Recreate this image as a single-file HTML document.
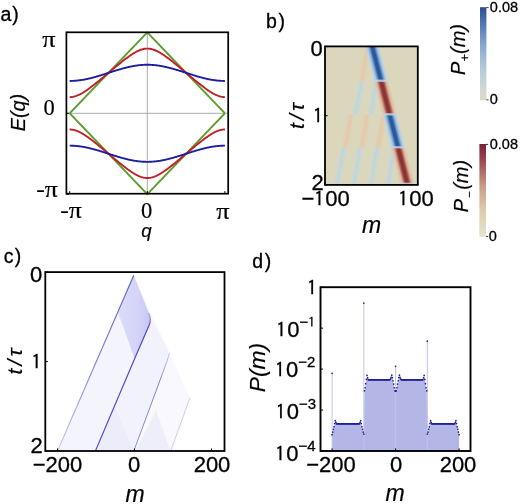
<!DOCTYPE html>
<html><head><meta charset="utf-8"><title>Figure</title>
<style>html,body{margin:0;padding:0;background:#fff;width:520px;height:504px;overflow:hidden}svg{display:block;filter:blur(0.35px)}</style>
</head><body>
<svg width="520" height="504" viewBox="0 0 520 504"><defs><clipPath id="cb"><rect x="325.0" y="46.4" width="92.80000000000001" height="138.5"/></clipPath><linearGradient id="gp" x1="0" y1="1" x2="0" y2="0"><stop offset="0" stop-color="#dbdac4"/><stop offset="0.12" stop-color="#d0d9d2"/><stop offset="0.35" stop-color="#b3c9da"/><stop offset="0.6" stop-color="#84a7cf"/><stop offset="0.85" stop-color="#4b71ae"/><stop offset="1" stop-color="#2b4d8e"/></linearGradient><linearGradient id="gm" x1="0" y1="1" x2="0" y2="0"><stop offset="0" stop-color="#e5e3d2"/><stop offset="0.3" stop-color="#dccaa9"/><stop offset="0.55" stop-color="#c89a86"/><stop offset="0.8" stop-color="#9f4f55"/><stop offset="1" stop-color="#7b1f36"/></linearGradient><linearGradient id="sbl" x1="0" y1="0" x2="1" y2="0"><stop offset="0" stop-color="#c0d4e0" stop-opacity="0"/><stop offset="0.1" stop-color="#c0d4e0" stop-opacity="0.8"/><stop offset="0.22" stop-color="#a0c2e0" stop-opacity="1"/><stop offset="0.32" stop-color="#6494cb" stop-opacity="1"/><stop offset="0.42" stop-color="#2c5898" stop-opacity="1"/><stop offset="0.58" stop-color="#2c5898" stop-opacity="1"/><stop offset="0.68" stop-color="#6494cb" stop-opacity="1"/><stop offset="0.78" stop-color="#a0c2e0" stop-opacity="1"/><stop offset="0.9" stop-color="#c0d4e0" stop-opacity="0.8"/><stop offset="1" stop-color="#c0d4e0" stop-opacity="0"/></linearGradient><linearGradient id="srd" x1="0" y1="0" x2="1" y2="0"><stop offset="0" stop-color="#e0c6ac" stop-opacity="0"/><stop offset="0.1" stop-color="#e0c6ac" stop-opacity="0.8"/><stop offset="0.22" stop-color="#d9b09a" stop-opacity="1"/><stop offset="0.32" stop-color="#b5675a" stop-opacity="1"/><stop offset="0.42" stop-color="#8c3434" stop-opacity="1"/><stop offset="0.58" stop-color="#8c3434" stop-opacity="1"/><stop offset="0.68" stop-color="#b5675a" stop-opacity="1"/><stop offset="0.78" stop-color="#d9b09a" stop-opacity="1"/><stop offset="0.9" stop-color="#e0c6ac" stop-opacity="0.8"/><stop offset="1" stop-color="#e0c6ac" stop-opacity="0"/></linearGradient><linearGradient id="ftn" x1="0" y1="0" x2="1" y2="0"><stop offset="0" stop-color="#e4cdae" stop-opacity="0"/><stop offset="0.25" stop-color="#e4cdae" stop-opacity="0.8"/><stop offset="0.5" stop-color="#e6c9a8" stop-opacity="1"/><stop offset="0.75" stop-color="#e4cdae" stop-opacity="0.8"/><stop offset="1" stop-color="#e4cdae" stop-opacity="0"/></linearGradient><linearGradient id="fbl" x1="0" y1="0" x2="1" y2="0"><stop offset="0" stop-color="#c6d8d8" stop-opacity="0"/><stop offset="0.25" stop-color="#c6d8d8" stop-opacity="0.8"/><stop offset="0.5" stop-color="#bed5dc" stop-opacity="1"/><stop offset="0.75" stop-color="#c6d8d8" stop-opacity="0.8"/><stop offset="1" stop-color="#c6d8d8" stop-opacity="0"/></linearGradient><clipPath id="cc"><rect x="45.3" y="272.1" width="179.2" height="178.89999999999998"/></clipPath><linearGradient id="crh" x1="0" y1="0" x2="1" y2="0"><stop offset="0" stop-color="#dadaf9"/><stop offset="0.6" stop-color="#d4d4f8"/><stop offset="1" stop-color="#c6c6f3"/></linearGradient><linearGradient id="cl3" x1="0" y1="0" x2="0" y2="1"><stop offset="0" stop-color="#8a8ada" stop-opacity="0.6"/><stop offset="0.1" stop-color="#4848c2"/><stop offset="1" stop-color="#5454c8"/></linearGradient><linearGradient id="cle" x1="0" y1="0" x2="0" y2="1"><stop offset="0" stop-color="#5858cc"/><stop offset="0.5" stop-color="#8080da"/><stop offset="1" stop-color="#cacaf2"/></linearGradient><linearGradient id="cl4" x1="0" y1="0" x2="0" y2="1"><stop offset="0" stop-color="#c8c8f0"/><stop offset="0.3" stop-color="#7c7cd8"/><stop offset="1" stop-color="#8c8cde"/></linearGradient></defs>
<line x1="66.4" y1="113.3" x2="228.2" y2="113.3" stroke="#a2a2a2" stroke-width="0.9"/>
<line x1="147.3" y1="32.3" x2="147.3" y2="193.7" stroke="#a2a2a2" stroke-width="0.9"/>
<polyline points="69.70,113.30 70.35,112.63 70.99,111.95 71.64,111.28 72.29,110.60 72.93,109.93 73.58,109.25 74.23,108.58 74.87,107.91 75.52,107.23 76.17,106.56 76.81,105.88 77.46,105.21 78.11,104.54 78.75,103.86 79.40,103.19 80.05,102.51 80.69,101.84 81.34,101.16 81.99,100.49 82.63,99.82 83.28,99.14 83.93,98.47 84.57,97.79 85.22,97.12 85.87,96.45 86.51,95.77 87.16,95.10 87.81,94.42 88.45,93.75 89.10,93.07 89.75,92.40 90.39,91.73 91.04,91.05 91.69,90.38 92.33,89.70 92.98,89.03 93.63,88.36 94.27,87.68 94.92,87.01 95.57,86.33 96.21,85.66 96.86,84.98 97.51,84.31 98.15,83.64 98.80,82.96 99.45,82.29 100.09,81.61 100.74,80.94 101.39,80.27 102.03,79.59 102.68,78.92 103.33,78.24 103.97,77.57 104.62,76.89 105.27,76.22 105.91,75.55 106.56,74.87 107.21,74.20 107.85,73.52 108.50,72.85 109.15,72.18 109.79,71.50 110.44,70.83 111.09,70.15 111.73,69.48 112.38,68.80 113.03,68.13 113.67,67.46 114.32,66.78 114.97,66.11 115.61,65.43 116.26,64.76 116.91,64.09 117.55,63.41 118.20,62.74 118.85,62.06 119.49,61.39 120.14,60.71 120.79,60.04 121.43,59.37 122.08,58.69 122.73,58.02 123.37,57.34 124.02,56.67 124.67,56.00 125.31,55.32 125.96,54.65 126.61,53.97 127.25,53.30 127.90,52.62 128.55,51.95 129.19,51.28 129.84,50.60 130.49,49.93 131.13,49.25 131.78,48.58 132.43,47.91 133.07,47.23 133.72,46.56 134.37,45.88 135.01,45.21 135.66,44.53 136.31,43.86 136.95,43.19 137.60,42.51 138.25,41.84 138.89,41.16 139.54,40.49 140.19,39.82 140.83,39.14 141.48,38.47 142.13,37.79 142.77,37.12 143.42,36.44 144.07,35.77 144.71,35.10 145.36,34.42 146.01,33.75 146.65,33.07 147.30,32.40 147.95,33.07 148.59,33.75 149.24,34.42 149.89,35.10 150.53,35.77 151.18,36.44 151.83,37.12 152.47,37.79 153.12,38.47 153.77,39.14 154.41,39.82 155.06,40.49 155.71,41.16 156.35,41.84 157.00,42.51 157.65,43.19 158.29,43.86 158.94,44.53 159.59,45.21 160.23,45.88 160.88,46.56 161.53,47.23 162.17,47.91 162.82,48.58 163.47,49.25 164.11,49.93 164.76,50.60 165.41,51.28 166.05,51.95 166.70,52.62 167.35,53.30 167.99,53.97 168.64,54.65 169.29,55.32 169.93,56.00 170.58,56.67 171.23,57.34 171.87,58.02 172.52,58.69 173.17,59.37 173.81,60.04 174.46,60.71 175.11,61.39 175.75,62.06 176.40,62.74 177.05,63.41 177.69,64.09 178.34,64.76 178.99,65.43 179.63,66.11 180.28,66.78 180.93,67.46 181.57,68.13 182.22,68.80 182.87,69.48 183.51,70.15 184.16,70.83 184.81,71.50 185.45,72.18 186.10,72.85 186.75,73.52 187.39,74.20 188.04,74.87 188.69,75.55 189.33,76.22 189.98,76.89 190.63,77.57 191.27,78.24 191.92,78.92 192.57,79.59 193.21,80.27 193.86,80.94 194.51,81.61 195.15,82.29 195.80,82.96 196.45,83.64 197.09,84.31 197.74,84.98 198.39,85.66 199.03,86.33 199.68,87.01 200.33,87.68 200.97,88.36 201.62,89.03 202.27,89.70 202.91,90.38 203.56,91.05 204.21,91.73 204.85,92.40 205.50,93.07 206.15,93.75 206.79,94.42 207.44,95.10 208.09,95.77 208.73,96.45 209.38,97.12 210.03,97.79 210.67,98.47 211.32,99.14 211.97,99.82 212.61,100.49 213.26,101.16 213.91,101.84 214.55,102.51 215.20,103.19 215.85,103.86 216.49,104.54 217.14,105.21 217.79,105.88 218.43,106.56 219.08,107.23 219.73,107.91 220.37,108.58 221.02,109.25 221.67,109.93 222.31,110.60 222.96,111.28 223.61,111.95 224.25,112.63 224.90,113.30" fill="none" stroke="#5c9e2e" stroke-width="1.9" stroke-linejoin="round"/>
<polyline points="69.70,113.30 70.35,113.97 70.99,114.65 71.64,115.32 72.29,116.00 72.93,116.67 73.58,117.35 74.23,118.02 74.87,118.69 75.52,119.37 76.17,120.04 76.81,120.72 77.46,121.39 78.11,122.06 78.75,122.74 79.40,123.41 80.05,124.09 80.69,124.76 81.34,125.44 81.99,126.11 82.63,126.78 83.28,127.46 83.93,128.13 84.57,128.81 85.22,129.48 85.87,130.15 86.51,130.83 87.16,131.50 87.81,132.18 88.45,132.85 89.10,133.53 89.75,134.20 90.39,134.87 91.04,135.55 91.69,136.22 92.33,136.90 92.98,137.57 93.63,138.24 94.27,138.92 94.92,139.59 95.57,140.27 96.21,140.94 96.86,141.62 97.51,142.29 98.15,142.96 98.80,143.64 99.45,144.31 100.09,144.99 100.74,145.66 101.39,146.33 102.03,147.01 102.68,147.68 103.33,148.36 103.97,149.03 104.62,149.71 105.27,150.38 105.91,151.05 106.56,151.73 107.21,152.40 107.85,153.08 108.50,153.75 109.15,154.42 109.79,155.10 110.44,155.77 111.09,156.45 111.73,157.12 112.38,157.80 113.03,158.47 113.67,159.14 114.32,159.82 114.97,160.49 115.61,161.17 116.26,161.84 116.91,162.51 117.55,163.19 118.20,163.86 118.85,164.54 119.49,165.21 120.14,165.88 120.79,166.56 121.43,167.23 122.08,167.91 122.73,168.58 123.37,169.26 124.02,169.93 124.67,170.60 125.31,171.28 125.96,171.95 126.61,172.63 127.25,173.30 127.90,173.97 128.55,174.65 129.19,175.32 129.84,176.00 130.49,176.67 131.13,177.35 131.78,178.02 132.43,178.69 133.07,179.37 133.72,180.04 134.37,180.72 135.01,181.39 135.66,182.06 136.31,182.74 136.95,183.41 137.60,184.09 138.25,184.76 138.89,185.44 139.54,186.11 140.19,186.78 140.83,187.46 141.48,188.13 142.13,188.81 142.77,189.48 143.42,190.16 144.07,190.83 144.71,191.50 145.36,192.18 146.01,192.85 146.65,193.53 147.30,194.20 147.95,193.53 148.59,192.85 149.24,192.18 149.89,191.50 150.53,190.83 151.18,190.16 151.83,189.48 152.47,188.81 153.12,188.13 153.77,187.46 154.41,186.78 155.06,186.11 155.71,185.44 156.35,184.76 157.00,184.09 157.65,183.41 158.29,182.74 158.94,182.06 159.59,181.39 160.23,180.72 160.88,180.04 161.53,179.37 162.17,178.69 162.82,178.02 163.47,177.35 164.11,176.67 164.76,176.00 165.41,175.32 166.05,174.65 166.70,173.97 167.35,173.30 167.99,172.63 168.64,171.95 169.29,171.28 169.93,170.60 170.58,169.93 171.23,169.26 171.87,168.58 172.52,167.91 173.17,167.23 173.81,166.56 174.46,165.88 175.11,165.21 175.75,164.54 176.40,163.86 177.05,163.19 177.69,162.51 178.34,161.84 178.99,161.17 179.63,160.49 180.28,159.82 180.93,159.14 181.57,158.47 182.22,157.80 182.87,157.12 183.51,156.45 184.16,155.77 184.81,155.10 185.45,154.42 186.10,153.75 186.75,153.08 187.39,152.40 188.04,151.73 188.69,151.05 189.33,150.38 189.98,149.71 190.63,149.03 191.27,148.36 191.92,147.68 192.57,147.01 193.21,146.33 193.86,145.66 194.51,144.99 195.15,144.31 195.80,143.64 196.45,142.96 197.09,142.29 197.74,141.62 198.39,140.94 199.03,140.27 199.68,139.59 200.33,138.92 200.97,138.24 201.62,137.57 202.27,136.90 202.91,136.22 203.56,135.55 204.21,134.87 204.85,134.20 205.50,133.53 206.15,132.85 206.79,132.18 207.44,131.50 208.09,130.83 208.73,130.15 209.38,129.48 210.03,128.81 210.67,128.13 211.32,127.46 211.97,126.78 212.61,126.11 213.26,125.44 213.91,124.76 214.55,124.09 215.20,123.41 215.85,122.74 216.49,122.06 217.14,121.39 217.79,120.72 218.43,120.04 219.08,119.37 219.73,118.69 220.37,118.02 221.02,117.35 221.67,116.67 222.31,116.00 222.96,115.32 223.61,114.65 224.25,113.97 224.90,113.30" fill="none" stroke="#5c9e2e" stroke-width="1.9" stroke-linejoin="round"/>
<polyline points="69.70,97.12 70.35,97.11 70.99,97.07 71.64,97.01 72.29,96.93 72.93,96.82 73.58,96.69 74.23,96.54 74.87,96.36 75.52,96.16 76.17,95.95 76.81,95.71 77.46,95.46 78.11,95.19 78.75,94.90 79.40,94.59 80.05,94.27 80.69,93.93 81.34,93.58 81.99,93.22 82.63,92.84 83.28,92.45 83.93,92.05 84.57,91.64 85.22,91.22 85.87,90.80 86.51,90.36 87.16,89.91 87.81,89.46 88.45,89.00 89.10,88.53 89.75,88.06 90.39,87.58 91.04,87.10 91.69,86.61 92.33,86.11 92.98,85.61 93.63,85.11 94.27,84.60 94.92,84.09 95.57,83.57 96.21,83.06 96.86,82.53 97.51,82.01 98.15,81.48 98.80,80.96 99.45,80.42 100.09,79.89 100.74,79.36 101.39,78.82 102.03,78.28 102.68,77.74 103.33,77.20 103.97,76.66 104.62,76.12 105.27,75.57 105.91,75.03 106.56,74.49 107.21,73.94 107.85,73.40 108.50,72.85 109.15,72.30 109.79,71.76 110.44,71.21 111.09,70.67 111.73,70.13 112.38,69.58 113.03,69.04 113.67,68.50 114.32,67.96 114.97,67.42 115.61,66.88 116.26,66.34 116.91,65.81 117.55,65.28 118.20,64.74 118.85,64.22 119.49,63.69 120.14,63.17 120.79,62.64 121.43,62.13 122.08,61.61 122.73,61.10 123.37,60.59 124.02,60.09 124.67,59.59 125.31,59.09 125.96,58.60 126.61,58.12 127.25,57.64 127.90,57.17 128.55,56.70 129.19,56.24 129.84,55.79 130.49,55.34 131.13,54.90 131.78,54.48 132.43,54.06 133.07,53.65 133.72,53.25 134.37,52.86 135.01,52.48 135.66,52.12 136.31,51.77 136.95,51.43 137.60,51.11 138.25,50.80 138.89,50.51 139.54,50.24 140.19,49.99 140.83,49.75 141.48,49.54 142.13,49.34 142.77,49.16 143.42,49.01 144.07,48.88 144.71,48.77 145.36,48.69 146.01,48.63 146.65,48.59 147.30,48.58 147.95,48.59 148.59,48.63 149.24,48.69 149.89,48.77 150.53,48.88 151.18,49.01 151.83,49.16 152.47,49.34 153.12,49.54 153.77,49.75 154.41,49.99 155.06,50.24 155.71,50.51 156.35,50.80 157.00,51.11 157.65,51.43 158.29,51.77 158.94,52.12 159.59,52.48 160.23,52.86 160.88,53.25 161.53,53.65 162.17,54.06 162.82,54.48 163.47,54.90 164.11,55.34 164.76,55.79 165.41,56.24 166.05,56.70 166.70,57.17 167.35,57.64 167.99,58.12 168.64,58.60 169.29,59.09 169.93,59.59 170.58,60.09 171.23,60.59 171.87,61.10 172.52,61.61 173.17,62.13 173.81,62.64 174.46,63.17 175.11,63.69 175.75,64.22 176.40,64.74 177.05,65.28 177.69,65.81 178.34,66.34 178.99,66.88 179.63,67.42 180.28,67.96 180.93,68.50 181.57,69.04 182.22,69.58 182.87,70.13 183.51,70.67 184.16,71.21 184.81,71.76 185.45,72.30 186.10,72.85 186.75,73.40 187.39,73.94 188.04,74.49 188.69,75.03 189.33,75.57 189.98,76.12 190.63,76.66 191.27,77.20 191.92,77.74 192.57,78.28 193.21,78.82 193.86,79.36 194.51,79.89 195.15,80.42 195.80,80.96 196.45,81.48 197.09,82.01 197.74,82.53 198.39,83.06 199.03,83.57 199.68,84.09 200.33,84.60 200.97,85.11 201.62,85.61 202.27,86.11 202.91,86.61 203.56,87.10 204.21,87.58 204.85,88.06 205.50,88.53 206.15,89.00 206.79,89.46 207.44,89.91 208.09,90.36 208.73,90.80 209.38,91.22 210.03,91.64 210.67,92.05 211.32,92.45 211.97,92.84 212.61,93.22 213.26,93.58 213.91,93.93 214.55,94.27 215.20,94.59 215.85,94.90 216.49,95.19 217.14,95.46 217.79,95.71 218.43,95.95 219.08,96.16 219.73,96.36 220.37,96.54 221.02,96.69 221.67,96.82 222.31,96.93 222.96,97.01 223.61,97.07 224.25,97.11 224.90,97.12" fill="none" stroke="#c41f26" stroke-width="1.9" stroke-linejoin="round"/>
<polyline points="69.70,129.48 70.35,129.49 70.99,129.53 71.64,129.59 72.29,129.67 72.93,129.78 73.58,129.91 74.23,130.06 74.87,130.24 75.52,130.44 76.17,130.65 76.81,130.89 77.46,131.14 78.11,131.41 78.75,131.70 79.40,132.01 80.05,132.33 80.69,132.67 81.34,133.02 81.99,133.38 82.63,133.76 83.28,134.15 83.93,134.55 84.57,134.96 85.22,135.38 85.87,135.80 86.51,136.24 87.16,136.69 87.81,137.14 88.45,137.60 89.10,138.07 89.75,138.54 90.39,139.02 91.04,139.50 91.69,139.99 92.33,140.49 92.98,140.99 93.63,141.49 94.27,142.00 94.92,142.51 95.57,143.03 96.21,143.54 96.86,144.07 97.51,144.59 98.15,145.12 98.80,145.64 99.45,146.18 100.09,146.71 100.74,147.24 101.39,147.78 102.03,148.32 102.68,148.86 103.33,149.40 103.97,149.94 104.62,150.48 105.27,151.03 105.91,151.57 106.56,152.11 107.21,152.66 107.85,153.20 108.50,153.75 109.15,154.30 109.79,154.84 110.44,155.39 111.09,155.93 111.73,156.47 112.38,157.02 113.03,157.56 113.67,158.10 114.32,158.64 114.97,159.18 115.61,159.72 116.26,160.26 116.91,160.79 117.55,161.32 118.20,161.86 118.85,162.38 119.49,162.91 120.14,163.43 120.79,163.96 121.43,164.47 122.08,164.99 122.73,165.50 123.37,166.01 124.02,166.51 124.67,167.01 125.31,167.51 125.96,168.00 126.61,168.48 127.25,168.96 127.90,169.43 128.55,169.90 129.19,170.36 129.84,170.81 130.49,171.26 131.13,171.70 131.78,172.12 132.43,172.54 133.07,172.95 133.72,173.35 134.37,173.74 135.01,174.12 135.66,174.48 136.31,174.83 136.95,175.17 137.60,175.49 138.25,175.80 138.89,176.09 139.54,176.36 140.19,176.61 140.83,176.85 141.48,177.06 142.13,177.26 142.77,177.44 143.42,177.59 144.07,177.72 144.71,177.83 145.36,177.91 146.01,177.97 146.65,178.01 147.30,178.02 147.95,178.01 148.59,177.97 149.24,177.91 149.89,177.83 150.53,177.72 151.18,177.59 151.83,177.44 152.47,177.26 153.12,177.06 153.77,176.85 154.41,176.61 155.06,176.36 155.71,176.09 156.35,175.80 157.00,175.49 157.65,175.17 158.29,174.83 158.94,174.48 159.59,174.12 160.23,173.74 160.88,173.35 161.53,172.95 162.17,172.54 162.82,172.12 163.47,171.70 164.11,171.26 164.76,170.81 165.41,170.36 166.05,169.90 166.70,169.43 167.35,168.96 167.99,168.48 168.64,168.00 169.29,167.51 169.93,167.01 170.58,166.51 171.23,166.01 171.87,165.50 172.52,164.99 173.17,164.47 173.81,163.96 174.46,163.43 175.11,162.91 175.75,162.38 176.40,161.86 177.05,161.32 177.69,160.79 178.34,160.26 178.99,159.72 179.63,159.18 180.28,158.64 180.93,158.10 181.57,157.56 182.22,157.02 182.87,156.47 183.51,155.93 184.16,155.39 184.81,154.84 185.45,154.30 186.10,153.75 186.75,153.20 187.39,152.66 188.04,152.11 188.69,151.57 189.33,151.03 189.98,150.48 190.63,149.94 191.27,149.40 191.92,148.86 192.57,148.32 193.21,147.78 193.86,147.24 194.51,146.71 195.15,146.18 195.80,145.64 196.45,145.12 197.09,144.59 197.74,144.07 198.39,143.54 199.03,143.03 199.68,142.51 200.33,142.00 200.97,141.49 201.62,140.99 202.27,140.49 202.91,139.99 203.56,139.50 204.21,139.02 204.85,138.54 205.50,138.07 206.15,137.60 206.79,137.14 207.44,136.69 208.09,136.24 208.73,135.80 209.38,135.38 210.03,134.96 210.67,134.55 211.32,134.15 211.97,133.76 212.61,133.38 213.26,133.02 213.91,132.67 214.55,132.33 215.20,132.01 215.85,131.70 216.49,131.41 217.14,131.14 217.79,130.89 218.43,130.65 219.08,130.44 219.73,130.24 220.37,130.06 221.02,129.91 221.67,129.78 222.31,129.67 222.96,129.59 223.61,129.53 224.25,129.49 224.90,129.48" fill="none" stroke="#c41f26" stroke-width="1.9" stroke-linejoin="round"/>
<polyline points="69.70,80.94 70.35,80.94 70.99,80.93 71.64,80.91 72.29,80.89 72.93,80.87 73.58,80.84 74.23,80.80 74.87,80.76 75.52,80.71 76.17,80.66 76.81,80.60 77.46,80.53 78.11,80.46 78.75,80.39 79.40,80.31 80.05,80.22 80.69,80.13 81.34,80.03 81.99,79.93 82.63,79.83 83.28,79.72 83.93,79.60 84.57,79.48 85.22,79.36 85.87,79.23 86.51,79.10 87.16,78.96 87.81,78.82 88.45,78.67 89.10,78.52 89.75,78.37 90.39,78.21 91.04,78.05 91.69,77.89 92.33,77.72 92.98,77.55 93.63,77.38 94.27,77.20 94.92,77.03 95.57,76.84 96.21,76.66 96.86,76.47 97.51,76.29 98.15,76.10 98.80,75.90 99.45,75.71 100.09,75.51 100.74,75.31 101.39,75.11 102.03,74.91 102.68,74.71 103.33,74.51 103.97,74.30 104.62,74.10 105.27,73.89 105.91,73.68 106.56,73.47 107.21,73.27 107.85,73.06 108.50,72.85 109.15,72.64 109.79,72.43 110.44,72.23 111.09,72.02 111.73,71.81 112.38,71.60 113.03,71.40 113.67,71.19 114.32,70.99 114.97,70.79 115.61,70.59 116.26,70.39 116.91,70.19 117.55,69.99 118.20,69.80 118.85,69.60 119.49,69.41 120.14,69.23 120.79,69.04 121.43,68.86 122.08,68.67 122.73,68.50 123.37,68.32 124.02,68.15 124.67,67.98 125.31,67.81 125.96,67.65 126.61,67.49 127.25,67.33 127.90,67.18 128.55,67.03 129.19,66.88 129.84,66.74 130.49,66.60 131.13,66.47 131.78,66.34 132.43,66.22 133.07,66.10 133.72,65.98 134.37,65.87 135.01,65.77 135.66,65.67 136.31,65.57 136.95,65.48 137.60,65.39 138.25,65.31 138.89,65.24 139.54,65.17 140.19,65.10 140.83,65.04 141.48,64.99 142.13,64.94 142.77,64.90 143.42,64.86 144.07,64.83 144.71,64.81 145.36,64.79 146.01,64.77 146.65,64.76 147.30,64.76 147.95,64.76 148.59,64.77 149.24,64.79 149.89,64.81 150.53,64.83 151.18,64.86 151.83,64.90 152.47,64.94 153.12,64.99 153.77,65.04 154.41,65.10 155.06,65.17 155.71,65.24 156.35,65.31 157.00,65.39 157.65,65.48 158.29,65.57 158.94,65.67 159.59,65.77 160.23,65.87 160.88,65.98 161.53,66.10 162.17,66.22 162.82,66.34 163.47,66.47 164.11,66.60 164.76,66.74 165.41,66.88 166.05,67.03 166.70,67.18 167.35,67.33 167.99,67.49 168.64,67.65 169.29,67.81 169.93,67.98 170.58,68.15 171.23,68.32 171.87,68.50 172.52,68.67 173.17,68.86 173.81,69.04 174.46,69.23 175.11,69.41 175.75,69.60 176.40,69.80 177.05,69.99 177.69,70.19 178.34,70.39 178.99,70.59 179.63,70.79 180.28,70.99 180.93,71.19 181.57,71.40 182.22,71.60 182.87,71.81 183.51,72.02 184.16,72.23 184.81,72.43 185.45,72.64 186.10,72.85 186.75,73.06 187.39,73.27 188.04,73.47 188.69,73.68 189.33,73.89 189.98,74.10 190.63,74.30 191.27,74.51 191.92,74.71 192.57,74.91 193.21,75.11 193.86,75.31 194.51,75.51 195.15,75.71 195.80,75.90 196.45,76.10 197.09,76.29 197.74,76.47 198.39,76.66 199.03,76.84 199.68,77.03 200.33,77.20 200.97,77.38 201.62,77.55 202.27,77.72 202.91,77.89 203.56,78.05 204.21,78.21 204.85,78.37 205.50,78.52 206.15,78.67 206.79,78.82 207.44,78.96 208.09,79.10 208.73,79.23 209.38,79.36 210.03,79.48 210.67,79.60 211.32,79.72 211.97,79.83 212.61,79.93 213.26,80.03 213.91,80.13 214.55,80.22 215.20,80.31 215.85,80.39 216.49,80.46 217.14,80.53 217.79,80.60 218.43,80.66 219.08,80.71 219.73,80.76 220.37,80.80 221.02,80.84 221.67,80.87 222.31,80.89 222.96,80.91 223.61,80.93 224.25,80.94 224.90,80.94" fill="none" stroke="#1d1f9c" stroke-width="1.9" stroke-linejoin="round"/>
<polyline points="69.70,145.66 70.35,145.66 70.99,145.67 71.64,145.69 72.29,145.71 72.93,145.73 73.58,145.76 74.23,145.80 74.87,145.84 75.52,145.89 76.17,145.94 76.81,146.00 77.46,146.07 78.11,146.14 78.75,146.21 79.40,146.29 80.05,146.38 80.69,146.47 81.34,146.57 81.99,146.67 82.63,146.77 83.28,146.88 83.93,147.00 84.57,147.12 85.22,147.24 85.87,147.37 86.51,147.50 87.16,147.64 87.81,147.78 88.45,147.93 89.10,148.08 89.75,148.23 90.39,148.39 91.04,148.55 91.69,148.71 92.33,148.88 92.98,149.05 93.63,149.22 94.27,149.40 94.92,149.57 95.57,149.76 96.21,149.94 96.86,150.13 97.51,150.31 98.15,150.50 98.80,150.70 99.45,150.89 100.09,151.09 100.74,151.29 101.39,151.49 102.03,151.69 102.68,151.89 103.33,152.09 103.97,152.30 104.62,152.50 105.27,152.71 105.91,152.92 106.56,153.13 107.21,153.33 107.85,153.54 108.50,153.75 109.15,153.96 109.79,154.17 110.44,154.37 111.09,154.58 111.73,154.79 112.38,155.00 113.03,155.20 113.67,155.41 114.32,155.61 114.97,155.81 115.61,156.01 116.26,156.21 116.91,156.41 117.55,156.61 118.20,156.80 118.85,157.00 119.49,157.19 120.14,157.37 120.79,157.56 121.43,157.74 122.08,157.93 122.73,158.10 123.37,158.28 124.02,158.45 124.67,158.62 125.31,158.79 125.96,158.95 126.61,159.11 127.25,159.27 127.90,159.42 128.55,159.57 129.19,159.72 129.84,159.86 130.49,160.00 131.13,160.13 131.78,160.26 132.43,160.38 133.07,160.50 133.72,160.62 134.37,160.73 135.01,160.83 135.66,160.93 136.31,161.03 136.95,161.12 137.60,161.21 138.25,161.29 138.89,161.36 139.54,161.43 140.19,161.50 140.83,161.56 141.48,161.61 142.13,161.66 142.77,161.70 143.42,161.74 144.07,161.77 144.71,161.79 145.36,161.81 146.01,161.83 146.65,161.84 147.30,161.84 147.95,161.84 148.59,161.83 149.24,161.81 149.89,161.79 150.53,161.77 151.18,161.74 151.83,161.70 152.47,161.66 153.12,161.61 153.77,161.56 154.41,161.50 155.06,161.43 155.71,161.36 156.35,161.29 157.00,161.21 157.65,161.12 158.29,161.03 158.94,160.93 159.59,160.83 160.23,160.73 160.88,160.62 161.53,160.50 162.17,160.38 162.82,160.26 163.47,160.13 164.11,160.00 164.76,159.86 165.41,159.72 166.05,159.57 166.70,159.42 167.35,159.27 167.99,159.11 168.64,158.95 169.29,158.79 169.93,158.62 170.58,158.45 171.23,158.28 171.87,158.10 172.52,157.93 173.17,157.74 173.81,157.56 174.46,157.37 175.11,157.19 175.75,157.00 176.40,156.80 177.05,156.61 177.69,156.41 178.34,156.21 178.99,156.01 179.63,155.81 180.28,155.61 180.93,155.41 181.57,155.20 182.22,155.00 182.87,154.79 183.51,154.58 184.16,154.37 184.81,154.17 185.45,153.96 186.10,153.75 186.75,153.54 187.39,153.33 188.04,153.13 188.69,152.92 189.33,152.71 189.98,152.50 190.63,152.30 191.27,152.09 191.92,151.89 192.57,151.69 193.21,151.49 193.86,151.29 194.51,151.09 195.15,150.89 195.80,150.70 196.45,150.50 197.09,150.31 197.74,150.13 198.39,149.94 199.03,149.76 199.68,149.57 200.33,149.40 200.97,149.22 201.62,149.05 202.27,148.88 202.91,148.71 203.56,148.55 204.21,148.39 204.85,148.23 205.50,148.08 206.15,147.93 206.79,147.78 207.44,147.64 208.09,147.50 208.73,147.37 209.38,147.24 210.03,147.12 210.67,147.00 211.32,146.88 211.97,146.77 212.61,146.67 213.26,146.57 213.91,146.47 214.55,146.38 215.20,146.29 215.85,146.21 216.49,146.14 217.14,146.07 217.79,146.00 218.43,145.94 219.08,145.89 219.73,145.84 220.37,145.80 221.02,145.76 221.67,145.73 222.31,145.71 222.96,145.69 223.61,145.67 224.25,145.66 224.90,145.66" fill="none" stroke="#1d1f9c" stroke-width="1.9" stroke-linejoin="round"/>
<rect x="66.4" y="32.3" width="161.79999999999998" height="161.39999999999998" fill="none" stroke="#000" stroke-width="1.7"/>
<rect x="325.0" y="46.4" width="92.80000000000001" height="138.5" fill="#dbd7bd"/>
<g clip-path="url(#cb)">
<rect x="-4.00" y="0" width="8.00" height="34.80" fill="url(#ftn)" transform="translate(367.50,46.40) skewX(-8.98)"/>
<rect x="-4.00" y="0" width="8.00" height="33.60" fill="url(#fbl)" transform="translate(362.00,81.20) skewX(-11.77)"/>
<rect x="-4.00" y="0" width="8.00" height="33.60" fill="url(#fbl)" transform="translate(376.00,81.20) skewX(-8.46)"/>
<rect x="-4.00" y="0" width="8.00" height="33.00" fill="url(#ftn)" transform="translate(351.00,114.80) skewX(-10.30)"/>
<rect x="-4.00" y="0" width="8.00" height="33.00" fill="url(#ftn)" transform="translate(367.00,114.80) skewX(-8.62)"/>
<rect x="-4.00" y="0" width="8.00" height="33.00" fill="url(#ftn)" transform="translate(383.50,114.80) skewX(-9.46)"/>
<rect x="-4.00" y="0" width="8.00" height="37.10" fill="url(#fbl)" transform="translate(344.00,147.80) skewX(-10.68)"/>
<rect x="-4.00" y="0" width="8.00" height="37.10" fill="url(#fbl)" transform="translate(360.00,147.80) skewX(-9.19)"/>
<rect x="-4.00" y="0" width="8.00" height="37.10" fill="url(#fbl)" transform="translate(377.00,147.80) skewX(-9.19)"/>
<rect x="-4.00" y="0" width="8.00" height="37.10" fill="url(#fbl)" transform="translate(394.00,147.80) skewX(-9.19)"/>
<rect x="-8.00" y="0" width="16.00" height="34.80" fill="url(#sbl)" transform="translate(372.20,46.40) skewX(14.36)"/>
<rect x="-8.00" y="0" width="16.00" height="33.60" fill="url(#srd)" transform="translate(381.11,81.20) skewX(14.36)"/>
<rect x="-8.00" y="0" width="16.00" height="33.00" fill="url(#sbl)" transform="translate(389.71,114.80) skewX(14.36)"/>
<rect x="-8.00" y="0" width="16.00" height="37.10" fill="url(#srd)" transform="translate(398.16,147.80) skewX(14.36)"/>
<rect x="374.11" y="79.60" width="14" height="2.2" fill="#c2d6e4" opacity="0.85"/>
<rect x="382.71" y="113.20" width="14" height="2.2" fill="#c2d6e4" opacity="0.85"/>
<rect x="391.16" y="146.20" width="14" height="2.2" fill="#c2d6e4" opacity="0.85"/>
<rect x="400.50" y="182.70" width="14" height="2.2" fill="#c2d6e4" opacity="0.85"/>
</g>
<rect x="325.0" y="46.4" width="92.80000000000001" height="138.5" fill="none" stroke="#000" stroke-width="1.8"/>
<rect x="480" y="7.2" width="6.4" height="93.1" fill="url(#gp)"/>
<rect x="479.4" y="144" width="6.6" height="92.8" fill="url(#gm)"/>
<g stroke="#000" stroke-width="0.8"><line x1="486.4" y1="7.6" x2="488.6" y2="7.6"/><line x1="486.4" y1="99.9" x2="488.6" y2="99.9"/><line x1="486" y1="144.4" x2="488.2" y2="144.4"/><line x1="486" y1="236.4" x2="488.2" y2="236.4"/></g>
<g clip-path="url(#cc)">
<polygon points="133.8,275.3 57.5,451 173,451 190,398" fill="#f8f8fe"/>
<polygon points="118.2,313 57.5,451 95.4,451 134.6,358.8" fill="#f4f4fd"/>
<polygon points="151.5,319.5 169.5,353 166.7,362.2 133.8,451 95.4,451 134.6,358.8" fill="#f2f2fd"/>
<polygon points="95.4,451 133.8,451 114,405" fill="#ececfa"/>
<polygon points="135.5,451 170.5,451 156,410" fill="#eeeefb"/>
<path d="M133.8,275.3 L118.2,313 L134.6,358.8 L149,325.4 Q151.8,319.5 148.8,312.9 Z" fill="url(#crh)"/>
<polyline points="133.8,275.3 57.5,451" fill="none" stroke="url(#cle)" stroke-width="1.1" stroke-linejoin="round"/>
<path d="M148.8,312.9 Q151.8,319.5 149,325.4 L134.6,358.8 L95.4,451" fill="none" stroke="url(#cl3)" stroke-width="1.2"/>
<polyline points="169.5,353 166.7,362.2 133.8,451" fill="none" stroke="url(#cl4)" stroke-width="1.0" stroke-linejoin="round"/>
<polyline points="190,397.8 172.2,446.7 170.5,451" fill="none" stroke="#c4c4ee" stroke-width="0.8" stroke-linejoin="round"/>
</g>
<rect x="45.3" y="272.1" width="179.2" height="178.89999999999998" fill="none" stroke="#000" stroke-width="1.8"/>
<polygon points="332.10,451.00 332.10,434.70 332.74,432.06 333.37,429.24 334.00,426.80 334.64,423.48 335.28,420.68 335.91,422.38 336.55,423.86 337.18,423.86 337.81,423.86 338.45,423.86 339.09,423.86 339.72,423.86 340.36,423.86 340.99,423.86 341.62,423.86 342.26,423.86 342.90,423.86 343.53,423.86 344.17,423.86 344.80,423.86 345.44,423.86 346.07,423.86 346.71,423.86 347.34,423.86 347.98,423.86 348.61,423.86 349.25,423.86 349.88,423.86 350.52,423.86 351.15,423.86 351.79,423.86 352.42,423.86 353.06,423.86 353.69,423.86 354.33,423.86 354.96,423.86 355.60,423.86 356.23,423.86 356.87,423.86 357.50,423.86 358.13,423.86 358.77,423.86 359.41,423.86 360.04,422.38 360.68,420.68 361.31,423.48 361.95,426.80 362.58,429.24 363.22,432.06 363.85,434.01 364.49,390.81 365.12,387.77 365.75,383.70 366.39,379.41 367.03,375.44 367.66,377.89 368.30,379.83 368.93,379.83 369.56,379.83 370.20,379.83 370.84,379.83 371.47,379.83 372.11,379.83 372.74,379.83 373.38,379.83 374.01,379.83 374.65,379.83 375.28,379.83 375.92,379.83 376.55,379.83 377.19,379.83 377.82,379.83 378.46,379.83 379.09,379.83 379.73,379.83 380.36,379.83 381.00,379.83 381.63,379.83 382.27,379.83 382.90,379.83 383.54,379.83 384.17,379.83 384.81,379.83 385.44,379.83 386.08,379.83 386.71,379.83 387.35,379.83 387.98,379.83 388.62,379.83 389.25,379.83 389.89,379.83 390.52,378.79 391.16,377.32 391.79,375.19 392.43,377.60 393.06,380.73 393.70,384.11 394.33,387.77 394.97,390.81 395.60,391.11 396.24,390.81 396.87,387.77 397.50,384.11 398.14,380.73 398.78,377.60 399.41,375.19 400.05,377.32 400.68,378.79 401.31,379.83 401.95,379.83 402.59,379.83 403.22,379.83 403.86,379.83 404.49,379.83 405.12,379.83 405.76,379.83 406.40,379.83 407.03,379.83 407.67,379.83 408.30,379.83 408.94,379.83 409.57,379.83 410.21,379.83 410.84,379.83 411.48,379.83 412.11,379.83 412.75,379.83 413.38,379.83 414.02,379.83 414.65,379.83 415.29,379.83 415.92,379.83 416.56,379.83 417.19,379.83 417.83,379.83 418.46,379.83 419.10,379.83 419.73,379.83 420.37,379.83 421.00,379.83 421.64,379.83 422.27,379.83 422.91,379.83 423.54,377.89 424.18,375.44 424.81,379.41 425.45,383.70 426.08,387.77 426.72,390.81 427.35,434.01 427.99,432.06 428.62,429.24 429.25,426.80 429.89,423.48 430.53,420.68 431.16,422.38 431.80,423.86 432.43,423.86 433.07,423.86 433.70,423.86 434.34,423.86 434.97,423.86 435.61,423.86 436.24,423.86 436.88,423.86 437.51,423.86 438.15,423.86 438.78,423.86 439.42,423.86 440.05,423.86 440.69,423.86 441.32,423.86 441.96,423.86 442.59,423.86 443.23,423.86 443.86,423.86 444.50,423.86 445.13,423.86 445.77,423.86 446.40,423.86 447.04,423.86 447.67,423.86 448.31,423.86 448.94,423.86 449.58,423.86 450.21,423.86 450.85,423.86 451.48,423.86 452.12,423.86 452.75,423.86 453.39,423.86 454.02,423.86 454.66,423.86 455.29,422.38 455.93,420.68 456.56,423.48 457.20,426.80 457.83,429.24 458.47,432.06 459.10,434.70 459.10,451.00" fill="#b4b6e5"/>
<line x1="332.10" y1="451.00" x2="332.10" y2="373.29" stroke="#c2c3ec" stroke-width="1"/>
<line x1="363.85" y1="451.00" x2="363.85" y2="303.06" stroke="#c2c3ec" stroke-width="1"/>
<line x1="395.60" y1="451.00" x2="395.60" y2="366.31" stroke="#c2c3ec" stroke-width="1"/>
<line x1="427.35" y1="451.00" x2="427.35" y2="341.20" stroke="#c2c3ec" stroke-width="1"/>
<g fill="#1f1f96"><circle cx="332.10" cy="434.70" r="0.85"/><circle cx="332.74" cy="432.06" r="0.85"/><circle cx="333.37" cy="429.24" r="0.85"/><circle cx="334.00" cy="426.80" r="0.85"/><circle cx="334.64" cy="423.48" r="0.85"/><circle cx="335.28" cy="420.68" r="0.85"/><circle cx="335.91" cy="422.38" r="0.85"/><circle cx="336.55" cy="423.86" r="0.85"/><circle cx="337.18" cy="423.86" r="0.85"/><circle cx="337.81" cy="423.86" r="0.85"/><circle cx="338.45" cy="423.86" r="0.85"/><circle cx="339.09" cy="423.86" r="0.85"/><circle cx="339.72" cy="423.86" r="0.85"/><circle cx="340.36" cy="423.86" r="0.85"/><circle cx="340.99" cy="423.86" r="0.85"/><circle cx="341.62" cy="423.86" r="0.85"/><circle cx="342.26" cy="423.86" r="0.85"/><circle cx="342.90" cy="423.86" r="0.85"/><circle cx="343.53" cy="423.86" r="0.85"/><circle cx="344.17" cy="423.86" r="0.85"/><circle cx="344.80" cy="423.86" r="0.85"/><circle cx="345.44" cy="423.86" r="0.85"/><circle cx="346.07" cy="423.86" r="0.85"/><circle cx="346.71" cy="423.86" r="0.85"/><circle cx="347.34" cy="423.86" r="0.85"/><circle cx="347.98" cy="423.86" r="0.85"/><circle cx="348.61" cy="423.86" r="0.85"/><circle cx="349.25" cy="423.86" r="0.85"/><circle cx="349.88" cy="423.86" r="0.85"/><circle cx="350.52" cy="423.86" r="0.85"/><circle cx="351.15" cy="423.86" r="0.85"/><circle cx="351.79" cy="423.86" r="0.85"/><circle cx="352.42" cy="423.86" r="0.85"/><circle cx="353.06" cy="423.86" r="0.85"/><circle cx="353.69" cy="423.86" r="0.85"/><circle cx="354.33" cy="423.86" r="0.85"/><circle cx="354.96" cy="423.86" r="0.85"/><circle cx="355.60" cy="423.86" r="0.85"/><circle cx="356.23" cy="423.86" r="0.85"/><circle cx="356.87" cy="423.86" r="0.85"/><circle cx="357.50" cy="423.86" r="0.85"/><circle cx="358.13" cy="423.86" r="0.85"/><circle cx="358.77" cy="423.86" r="0.85"/><circle cx="359.41" cy="423.86" r="0.85"/><circle cx="360.04" cy="422.38" r="0.85"/><circle cx="360.68" cy="420.68" r="0.85"/><circle cx="361.31" cy="423.48" r="0.85"/><circle cx="361.95" cy="426.80" r="0.85"/><circle cx="362.58" cy="429.24" r="0.85"/><circle cx="363.22" cy="432.06" r="0.85"/><circle cx="363.85" cy="434.01" r="0.85"/><circle cx="364.49" cy="390.81" r="0.85"/><circle cx="365.12" cy="387.77" r="0.85"/><circle cx="365.75" cy="383.70" r="0.85"/><circle cx="366.39" cy="379.41" r="0.85"/><circle cx="367.03" cy="375.44" r="0.85"/><circle cx="367.66" cy="377.89" r="0.85"/><circle cx="368.30" cy="379.83" r="0.85"/><circle cx="368.93" cy="379.83" r="0.85"/><circle cx="369.56" cy="379.83" r="0.85"/><circle cx="370.20" cy="379.83" r="0.85"/><circle cx="370.84" cy="379.83" r="0.85"/><circle cx="371.47" cy="379.83" r="0.85"/><circle cx="372.11" cy="379.83" r="0.85"/><circle cx="372.74" cy="379.83" r="0.85"/><circle cx="373.38" cy="379.83" r="0.85"/><circle cx="374.01" cy="379.83" r="0.85"/><circle cx="374.65" cy="379.83" r="0.85"/><circle cx="375.28" cy="379.83" r="0.85"/><circle cx="375.92" cy="379.83" r="0.85"/><circle cx="376.55" cy="379.83" r="0.85"/><circle cx="377.19" cy="379.83" r="0.85"/><circle cx="377.82" cy="379.83" r="0.85"/><circle cx="378.46" cy="379.83" r="0.85"/><circle cx="379.09" cy="379.83" r="0.85"/><circle cx="379.73" cy="379.83" r="0.85"/><circle cx="380.36" cy="379.83" r="0.85"/><circle cx="381.00" cy="379.83" r="0.85"/><circle cx="381.63" cy="379.83" r="0.85"/><circle cx="382.27" cy="379.83" r="0.85"/><circle cx="382.90" cy="379.83" r="0.85"/><circle cx="383.54" cy="379.83" r="0.85"/><circle cx="384.17" cy="379.83" r="0.85"/><circle cx="384.81" cy="379.83" r="0.85"/><circle cx="385.44" cy="379.83" r="0.85"/><circle cx="386.08" cy="379.83" r="0.85"/><circle cx="386.71" cy="379.83" r="0.85"/><circle cx="387.35" cy="379.83" r="0.85"/><circle cx="387.98" cy="379.83" r="0.85"/><circle cx="388.62" cy="379.83" r="0.85"/><circle cx="389.25" cy="379.83" r="0.85"/><circle cx="389.89" cy="379.83" r="0.85"/><circle cx="390.52" cy="378.79" r="0.85"/><circle cx="391.16" cy="377.32" r="0.85"/><circle cx="391.79" cy="375.19" r="0.85"/><circle cx="392.43" cy="377.60" r="0.85"/><circle cx="393.06" cy="380.73" r="0.85"/><circle cx="393.70" cy="384.11" r="0.85"/><circle cx="394.33" cy="387.77" r="0.85"/><circle cx="394.97" cy="390.81" r="0.85"/><circle cx="395.60" cy="391.11" r="0.85"/><circle cx="396.24" cy="390.81" r="0.85"/><circle cx="396.87" cy="387.77" r="0.85"/><circle cx="397.50" cy="384.11" r="0.85"/><circle cx="398.14" cy="380.73" r="0.85"/><circle cx="398.78" cy="377.60" r="0.85"/><circle cx="399.41" cy="375.19" r="0.85"/><circle cx="400.05" cy="377.32" r="0.85"/><circle cx="400.68" cy="378.79" r="0.85"/><circle cx="401.31" cy="379.83" r="0.85"/><circle cx="401.95" cy="379.83" r="0.85"/><circle cx="402.59" cy="379.83" r="0.85"/><circle cx="403.22" cy="379.83" r="0.85"/><circle cx="403.86" cy="379.83" r="0.85"/><circle cx="404.49" cy="379.83" r="0.85"/><circle cx="405.12" cy="379.83" r="0.85"/><circle cx="405.76" cy="379.83" r="0.85"/><circle cx="406.40" cy="379.83" r="0.85"/><circle cx="407.03" cy="379.83" r="0.85"/><circle cx="407.67" cy="379.83" r="0.85"/><circle cx="408.30" cy="379.83" r="0.85"/><circle cx="408.94" cy="379.83" r="0.85"/><circle cx="409.57" cy="379.83" r="0.85"/><circle cx="410.21" cy="379.83" r="0.85"/><circle cx="410.84" cy="379.83" r="0.85"/><circle cx="411.48" cy="379.83" r="0.85"/><circle cx="412.11" cy="379.83" r="0.85"/><circle cx="412.75" cy="379.83" r="0.85"/><circle cx="413.38" cy="379.83" r="0.85"/><circle cx="414.02" cy="379.83" r="0.85"/><circle cx="414.65" cy="379.83" r="0.85"/><circle cx="415.29" cy="379.83" r="0.85"/><circle cx="415.92" cy="379.83" r="0.85"/><circle cx="416.56" cy="379.83" r="0.85"/><circle cx="417.19" cy="379.83" r="0.85"/><circle cx="417.83" cy="379.83" r="0.85"/><circle cx="418.46" cy="379.83" r="0.85"/><circle cx="419.10" cy="379.83" r="0.85"/><circle cx="419.73" cy="379.83" r="0.85"/><circle cx="420.37" cy="379.83" r="0.85"/><circle cx="421.00" cy="379.83" r="0.85"/><circle cx="421.64" cy="379.83" r="0.85"/><circle cx="422.27" cy="379.83" r="0.85"/><circle cx="422.91" cy="379.83" r="0.85"/><circle cx="423.54" cy="377.89" r="0.85"/><circle cx="424.18" cy="375.44" r="0.85"/><circle cx="424.81" cy="379.41" r="0.85"/><circle cx="425.45" cy="383.70" r="0.85"/><circle cx="426.08" cy="387.77" r="0.85"/><circle cx="426.72" cy="390.81" r="0.85"/><circle cx="427.35" cy="434.01" r="0.85"/><circle cx="427.99" cy="432.06" r="0.85"/><circle cx="428.62" cy="429.24" r="0.85"/><circle cx="429.25" cy="426.80" r="0.85"/><circle cx="429.89" cy="423.48" r="0.85"/><circle cx="430.53" cy="420.68" r="0.85"/><circle cx="431.16" cy="422.38" r="0.85"/><circle cx="431.80" cy="423.86" r="0.85"/><circle cx="432.43" cy="423.86" r="0.85"/><circle cx="433.07" cy="423.86" r="0.85"/><circle cx="433.70" cy="423.86" r="0.85"/><circle cx="434.34" cy="423.86" r="0.85"/><circle cx="434.97" cy="423.86" r="0.85"/><circle cx="435.61" cy="423.86" r="0.85"/><circle cx="436.24" cy="423.86" r="0.85"/><circle cx="436.88" cy="423.86" r="0.85"/><circle cx="437.51" cy="423.86" r="0.85"/><circle cx="438.15" cy="423.86" r="0.85"/><circle cx="438.78" cy="423.86" r="0.85"/><circle cx="439.42" cy="423.86" r="0.85"/><circle cx="440.05" cy="423.86" r="0.85"/><circle cx="440.69" cy="423.86" r="0.85"/><circle cx="441.32" cy="423.86" r="0.85"/><circle cx="441.96" cy="423.86" r="0.85"/><circle cx="442.59" cy="423.86" r="0.85"/><circle cx="443.23" cy="423.86" r="0.85"/><circle cx="443.86" cy="423.86" r="0.85"/><circle cx="444.50" cy="423.86" r="0.85"/><circle cx="445.13" cy="423.86" r="0.85"/><circle cx="445.77" cy="423.86" r="0.85"/><circle cx="446.40" cy="423.86" r="0.85"/><circle cx="447.04" cy="423.86" r="0.85"/><circle cx="447.67" cy="423.86" r="0.85"/><circle cx="448.31" cy="423.86" r="0.85"/><circle cx="448.94" cy="423.86" r="0.85"/><circle cx="449.58" cy="423.86" r="0.85"/><circle cx="450.21" cy="423.86" r="0.85"/><circle cx="450.85" cy="423.86" r="0.85"/><circle cx="451.48" cy="423.86" r="0.85"/><circle cx="452.12" cy="423.86" r="0.85"/><circle cx="452.75" cy="423.86" r="0.85"/><circle cx="453.39" cy="423.86" r="0.85"/><circle cx="454.02" cy="423.86" r="0.85"/><circle cx="454.66" cy="423.86" r="0.85"/><circle cx="455.29" cy="422.38" r="0.85"/><circle cx="455.93" cy="420.68" r="0.85"/><circle cx="456.56" cy="423.48" r="0.85"/><circle cx="457.20" cy="426.80" r="0.85"/><circle cx="457.83" cy="429.24" r="0.85"/><circle cx="458.47" cy="432.06" r="0.85"/><circle cx="459.10" cy="434.70" r="0.85"/><circle cx="332.10" cy="373.29" r="0.85"/><circle cx="363.85" cy="303.06" r="0.85"/><circle cx="395.60" cy="366.31" r="0.85"/><circle cx="427.35" cy="341.20" r="0.85"/></g>
<rect x="320.5" y="287.2" width="150.0" height="163.8" fill="none" stroke="#000" stroke-width="1.9"/>
<g stroke="#000" stroke-width="1"><line x1="69.70" y1="193.70" x2="69.70" y2="191.10"/><line x1="147.30" y1="193.70" x2="147.30" y2="191.10"/><line x1="224.90" y1="193.70" x2="224.90" y2="191.10"/><line x1="66.40" y1="32.40" x2="69.00" y2="32.40"/><line x1="66.40" y1="113.30" x2="69.00" y2="113.30"/><line x1="66.40" y1="194.20" x2="69.00" y2="194.20"/></g>
<g stroke="#000" stroke-width="1"><line x1="325.00" y1="184.90" x2="325.00" y2="182.30"/><line x1="417.80" y1="184.90" x2="417.80" y2="182.30"/><line x1="325.00" y1="46.40" x2="327.60" y2="46.40"/><line x1="325.00" y1="115.65" x2="327.60" y2="115.65"/><line x1="325.00" y1="184.90" x2="327.60" y2="184.90"/></g>
<g stroke="#000" stroke-width="1"><line x1="57.50" y1="451.00" x2="57.50" y2="448.40"/><line x1="134.50" y1="451.00" x2="134.50" y2="448.40"/><line x1="211.50" y1="451.00" x2="211.50" y2="448.40"/><line x1="45.30" y1="272.10" x2="47.90" y2="272.10"/><line x1="45.30" y1="361.55" x2="47.90" y2="361.55"/><line x1="45.30" y1="451.00" x2="47.90" y2="451.00"/></g>
<g stroke="#000" stroke-width="1"><line x1="332.10" y1="451.00" x2="332.10" y2="448.40"/><line x1="395.60" y1="451.00" x2="395.60" y2="448.40"/><line x1="459.10" y1="451.00" x2="459.10" y2="448.40"/><line x1="320.50" y1="287.20" x2="323.10" y2="287.20"/><line x1="320.50" y1="328.15" x2="323.10" y2="328.15"/><line x1="320.50" y1="369.10" x2="323.10" y2="369.10"/><line x1="320.50" y1="410.05" x2="323.10" y2="410.05"/><line x1="320.50" y1="451.00" x2="323.10" y2="451.00"/></g>
<text transform="translate(0.50,20.70)" font-family='"Liberation Sans", Arial, sans-serif' font-size="19.5" font-style="normal" text-anchor="start" stroke="#000" stroke-width="0.3"><tspan letter-spacing="1">a</tspan>)</text>
<text transform="translate(49.00,46.85) scale(1.17,1)" font-family='"Liberation Serif", "Times New Roman", serif' font-size="22.5" font-style="normal" text-anchor="middle" stroke="#000" stroke-width="0.2">π</text>
<text transform="translate(49.00,115.10)" font-family='"Liberation Serif", "Times New Roman", serif' font-size="22.5" font-style="normal" text-anchor="middle" stroke="#000" stroke-width="0.2">0</text>
<text transform="translate(47.00,196.90) scale(1.15,1)" font-family='"Liberation Serif", "Times New Roman", serif' font-size="22.5" font-style="normal" text-anchor="middle" stroke="#000" stroke-width="0.2">-π</text>
<text transform="translate(71.00,218.20) scale(1.15,1)" font-family='"Liberation Serif", "Times New Roman", serif' font-size="22.5" font-style="normal" text-anchor="middle" stroke="#000" stroke-width="0.2">-π</text>
<text transform="translate(146.50,218.00)" font-family='"Liberation Serif", "Times New Roman", serif' font-size="22.5" font-style="normal" text-anchor="middle" stroke="#000" stroke-width="0.2">0</text>
<text transform="translate(223.00,218.55) scale(1.17,1)" font-family='"Liberation Serif", "Times New Roman", serif' font-size="22.5" font-style="normal" text-anchor="middle" stroke="#000" stroke-width="0.2">π</text>
<text transform="translate(146.50,237.40)" font-family='"Liberation Sans", Arial, sans-serif' font-size="18.8" font-style="italic" text-anchor="middle" stroke="#000" stroke-width="0.2">q</text>
<text transform="translate(25.05,112.50) rotate(-90)" font-family='"Liberation Sans", Arial, sans-serif' font-size="19.8" font-style="italic" text-anchor="middle" stroke="#000" stroke-width="0.2">E(q)</text>
<text transform="translate(265.95,27.50)" font-family='"Liberation Sans", Arial, sans-serif' font-size="19.5" font-style="normal" text-anchor="start" stroke="#000" stroke-width="0.3"><tspan letter-spacing="1.6">b</tspan>)</text>
<text transform="translate(316.50,55.62)" font-family='"Liberation Sans", Arial, sans-serif' font-size="22" font-style="normal" text-anchor="middle" stroke="#000" stroke-width="0.3">0</text>
<text transform="translate(318.50,123.20)" font-family='"Liberation Sans", Arial, sans-serif' font-size="22" font-style="normal" text-anchor="middle" stroke="#000" stroke-width="0.3"><tspan font-family="IPAGothic, NanumGothic, sans-serif" font-size="19.58" letter-spacing="1.10">1</tspan></text>
<text transform="translate(317.50,190.00)" font-family='"Liberation Sans", Arial, sans-serif' font-size="22" font-style="normal" text-anchor="middle" stroke="#000" stroke-width="0.3">2</text>
<text transform="translate(325.50,206.00)" font-family='"Liberation Sans", Arial, sans-serif' font-size="22" font-style="normal" text-anchor="middle" stroke="#000" stroke-width="0.3">−<tspan font-family="IPAGothic, NanumGothic, sans-serif" font-size="19.58" letter-spacing="1.10">1</tspan>00</text>
<text transform="translate(416.00,206.45)" font-family='"Liberation Sans", Arial, sans-serif' font-size="22" font-style="normal" text-anchor="middle" stroke="#000" stroke-width="0.3"><tspan font-family="IPAGothic, NanumGothic, sans-serif" font-size="19.58" letter-spacing="1.10">1</tspan>00</text>
<text transform="translate(371.50,232.55)" font-family='"Liberation Sans", Arial, sans-serif' font-size="23" font-style="italic" text-anchor="middle" stroke="#000" stroke-width="0.2">m</text>
<text transform="translate(304.30,116.00) rotate(-90)" font-family='"Liberation Sans", Arial, sans-serif' font-size="21" font-style="italic" text-anchor="middle" stroke="#000" stroke-width="0.2"><tspan letter-spacing="3.2">t/</tspan>τ</text>
<text transform="translate(489.85,12.20)" font-family='"Liberation Sans", Arial, sans-serif' font-size="14.5" font-style="normal" text-anchor="start" stroke="#000" stroke-width="0.3">0.08</text>
<text transform="translate(489.70,104.35)" font-family='"Liberation Sans", Arial, sans-serif' font-size="14.5" font-style="normal" text-anchor="start" stroke="#000" stroke-width="0.3">0</text>
<text transform="translate(489.75,148.88)" font-family='"Liberation Sans", Arial, sans-serif' font-size="14.5" font-style="normal" text-anchor="start" stroke="#000" stroke-width="0.3">0.08</text>
<text transform="translate(488.85,241.25)" font-family='"Liberation Sans", Arial, sans-serif' font-size="14.5" font-style="normal" text-anchor="start" stroke="#000" stroke-width="0.3">0</text>
<text transform="translate(465.15,49.50) rotate(-90)" font-family='"Liberation Sans", Arial, sans-serif' font-size="20" font-style="italic" text-anchor="middle" stroke="#000" stroke-width="0.2">P<tspan font-size="13" dy="4" font-style="normal">+</tspan><tspan dy="-4">(m)</tspan></text>
<text transform="translate(467.55,186.00) rotate(-90)" font-family='"Liberation Sans", Arial, sans-serif' font-size="20" font-style="italic" text-anchor="middle" stroke="#000" stroke-width="0.2">P<tspan font-size="11" dy="5.5" dx="1" font-style="normal">−</tspan><tspan dy="-5.5" dx="1.5">(m)</tspan></text>
<text transform="translate(3.70,263.40)" font-family='"Liberation Sans", Arial, sans-serif' font-size="19.5" font-style="normal" text-anchor="start" stroke="#000" stroke-width="0.3"><tspan letter-spacing="1.3">c</tspan>)</text>
<text transform="translate(36.00,282.45)" font-family='"Liberation Sans", Arial, sans-serif' font-size="22" font-style="normal" text-anchor="middle" stroke="#000" stroke-width="0.3">0</text>
<text transform="translate(37.00,368.85)" font-family='"Liberation Sans", Arial, sans-serif' font-size="22" font-style="normal" text-anchor="middle" stroke="#000" stroke-width="0.3"><tspan font-family="IPAGothic, NanumGothic, sans-serif" font-size="19.58" letter-spacing="1.10">1</tspan></text>
<text transform="translate(36.50,453.40)" font-family='"Liberation Sans", Arial, sans-serif' font-size="22" font-style="normal" text-anchor="middle" stroke="#000" stroke-width="0.3">2</text>
<text transform="translate(21.80,361.50) rotate(-90)" font-family='"Liberation Sans", Arial, sans-serif' font-size="21" font-style="italic" text-anchor="middle" stroke="#000" stroke-width="0.2"><tspan letter-spacing="3.2">t/</tspan>τ</text>
<text transform="translate(57.50,472.05)" font-family='"Liberation Sans", Arial, sans-serif' font-size="22" font-style="normal" text-anchor="middle" stroke="#000" stroke-width="0.3">−200</text>
<text transform="translate(134.00,472.05)" font-family='"Liberation Sans", Arial, sans-serif' font-size="22" font-style="normal" text-anchor="middle" stroke="#000" stroke-width="0.3">0</text>
<text transform="translate(212.00,472.05)" font-family='"Liberation Sans", Arial, sans-serif' font-size="22" font-style="normal" text-anchor="middle" stroke="#000" stroke-width="0.3">200</text>
<text transform="translate(135.00,501.55)" font-family='"Liberation Sans", Arial, sans-serif' font-size="23" font-style="italic" text-anchor="middle" stroke="#000" stroke-width="0.2">m</text>
<text transform="translate(252.25,267.65)" font-family='"Liberation Sans", Arial, sans-serif' font-size="19.5" font-style="normal" text-anchor="start" stroke="#000" stroke-width="0.3"><tspan letter-spacing="1.6">d</tspan>)</text>
<text transform="translate(312.50,294.95)" font-family='"Liberation Sans", Arial, sans-serif' font-size="22" font-style="normal" text-anchor="middle" stroke="#000" stroke-width="0.3"><tspan font-family="IPAGothic, NanumGothic, sans-serif" font-size="19.58" letter-spacing="1.10">1</tspan></text>
<text transform="translate(276.25,336.75)" font-family='"Liberation Sans", Arial, sans-serif' font-size="22" font-style="normal" text-anchor="start" stroke="#000" stroke-width="0.3"><tspan font-family="IPAGothic, NanumGothic, sans-serif" font-size="19.58" letter-spacing="1.10">1</tspan>0<tspan font-size="15" dy="-9.8">−<tspan font-family="IPAGothic, NanumGothic, sans-serif" font-size="13.35" letter-spacing="0.75">1</tspan></tspan></text>
<text transform="translate(275.00,376.60)" font-family='"Liberation Sans", Arial, sans-serif' font-size="22" font-style="normal" text-anchor="start" stroke="#000" stroke-width="0.3"><tspan font-family="IPAGothic, NanumGothic, sans-serif" font-size="19.58" letter-spacing="1.10">1</tspan>0<tspan font-size="15" dy="-9.8">−2</tspan></text>
<text transform="translate(275.75,419.05)" font-family='"Liberation Sans", Arial, sans-serif' font-size="22" font-style="normal" text-anchor="start" stroke="#000" stroke-width="0.3"><tspan font-family="IPAGothic, NanumGothic, sans-serif" font-size="19.58" letter-spacing="1.10">1</tspan>0<tspan font-size="15" dy="-9.8">−3</tspan></text>
<text transform="translate(275.25,460.50)" font-family='"Liberation Sans", Arial, sans-serif' font-size="22" font-style="normal" text-anchor="start" stroke="#000" stroke-width="0.3"><tspan font-family="IPAGothic, NanumGothic, sans-serif" font-size="19.58" letter-spacing="1.10">1</tspan>0<tspan font-size="15" dy="-9.8">−4</tspan></text>
<text transform="translate(264.85,367.50) rotate(-90)" font-family='"Liberation Sans", Arial, sans-serif' font-size="22.8" font-style="italic" text-anchor="middle" stroke="#000" stroke-width="0.2">P(m)</text>
<text transform="translate(331.00,472.30)" font-family='"Liberation Sans", Arial, sans-serif' font-size="22" font-style="normal" text-anchor="middle" stroke="#000" stroke-width="0.3">−200</text>
<text transform="translate(396.00,472.30)" font-family='"Liberation Sans", Arial, sans-serif' font-size="22" font-style="normal" text-anchor="middle" stroke="#000" stroke-width="0.3">0</text>
<text transform="translate(458.00,472.30)" font-family='"Liberation Sans", Arial, sans-serif' font-size="22" font-style="normal" text-anchor="middle" stroke="#000" stroke-width="0.3">200</text>
<text transform="translate(395.00,500.55)" font-family='"Liberation Sans", Arial, sans-serif' font-size="23" font-style="italic" text-anchor="middle" stroke="#000" stroke-width="0.2">m</text></svg>
</body></html>
